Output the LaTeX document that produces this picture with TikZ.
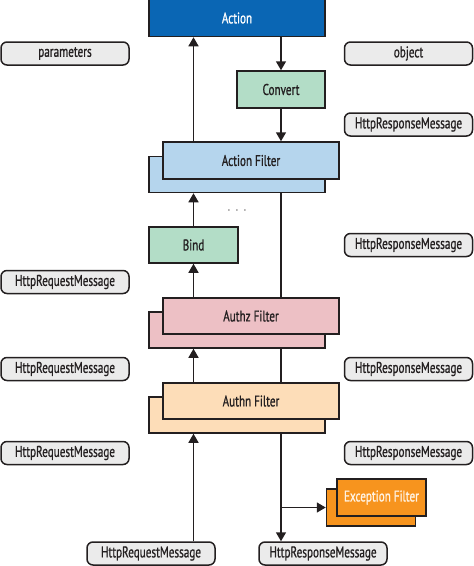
\documentclass[tikz,border=0pt]{standalone}
\usepackage{fontspec}
\setmainfont{PT Sans}[FakeStretch=0.72, FakeBold=0.9]
\usetikzlibrary{arrows.meta}
\definecolor{ink}{HTML}{231F20}
\definecolor{actblue}{HTML}{0A66B4}
\definecolor{mint}{HTML}{B3DDC7}
\definecolor{skyb}{HTML}{B5D5ED}
\definecolor{rose}{HTML}{EDC0C5}
\definecolor{peach}{HTML}{FDDDB8}
\definecolor{orng}{HTML}{F7941E}
\definecolor{pillgray}{HTML}{EBEBEB}
\definecolor{cream}{HTML}{FFF3E3}
\tikzset{
  box/.style={draw=ink, line width=1.5pt, rectangle, inner sep=0pt, font=\fontsize{15.5}{17}\selectfont, text=ink},
  wide/.style={box, minimum width=176pt, minimum height=36pt},
  small/.style={box, minimum width=88pt, minimum height=37pt},
  pill/.style={draw=ink, line width=1.5pt, fill=pillgray, rounded corners=6pt, minimum width=128pt, minimum height=23pt, inner sep=0pt, font=\fontsize{15.5}{17}\selectfont, text=ink},
  arr/.style={draw=ink, line width=1.5pt, -{Triangle[length=9pt,width=10pt]}},
  ln/.style={draw=ink, line width=1.5pt}
}
\begin{document}
\begin{tikzpicture}[x=1pt,y=-1pt]
\useasboundingbox (0,0) rectangle (474,566);
% main boxes
\node[wide, fill=actblue, text=white, minimum height=37pt] (action) at (237,18) {Action};
\node[small, fill=mint] (convert) at (281,89.5) {Convert};
\node[wide, fill=skyb] (afb) at (237,174.5) {};
\node[wide, fill=skyb, minimum height=37pt] (af) at (251,160.5) {Action Filter};
\node[small, fill=mint, minimum width=89pt, minimum height=36pt] (bind) at (193.5,245) {Bind};
\node[wide, fill=rose] (authzb) at (237,330) {};
\node[wide, fill=rose] (authz) at (251,316) {Authz Filter};
\node[wide, fill=peach] (authnb) at (237,415) {};
\node[wide, fill=peach] (authn) at (251,401) {Authn Filter};
\node[small, fill=orng, minimum width=89pt] (excb) at (371,507.5) {};
\node[small, fill=orng, minimum width=89pt, text=cream] (exc) at (381.5,497.5) {Exception Filter};
\node[font=\fontsize{12}{14}\selectfont, text=ink] (dots) at (237,211) {$\cdot\,\cdot\,\cdot$};
% pills
\node[pill] (params) at (65,53.5) {parameters};
\node[pill] (obj) at (408.5,53.5) {object};
\node[pill] (resp1) at (408.5,124.5) {HttpResponseMessage};
\node[pill] (resp2) at (408.5,245) {HttpResponseMessage};
\node[pill] (req1) at (65,282) {HttpRequestMessage};
\node[pill] (req2) at (65,369) {HttpRequestMessage};
\node[pill] (resp3) at (408.5,369) {HttpResponseMessage};
\node[pill] (req3) at (65,453) {HttpRequestMessage};
\node[pill] (resp4) at (408.5,453) {HttpResponseMessage};
\node[pill] (reqb) at (151,553.5) {HttpRequestMessage};
\node[pill] (respb) at (323,553.5) {HttpResponseMessage};
% request path (up)
\draw[arr] (reqb.north -| bind) -- (bind |- authnb.south);
\draw[arr] (authn.north -| bind) -- (bind |- authzb.south);
\draw[arr] (authz.north -| bind) -- (bind.south);
\draw[arr] (bind.north) -- (bind |- afb.south);
\draw[arr] (af.north -| bind) -- (bind |- action.south);
% response path (down)
\draw[arr] (action.south -| convert) -- (convert.north);
\draw[arr] (convert.south) -- (convert |- af.north);
\draw[ln] (afb.south -| convert) -- (convert |- authz.north);
\draw[ln] (authzb.south -| convert) -- (convert |- authn.north);
\draw[arr] (authnb.south -| convert) -- (convert |- respb.north);
\coordinate (branch) at (convert |- excb.west);
\draw[arr] (branch) -- (excb.west);
\end{tikzpicture}
\end{document}
